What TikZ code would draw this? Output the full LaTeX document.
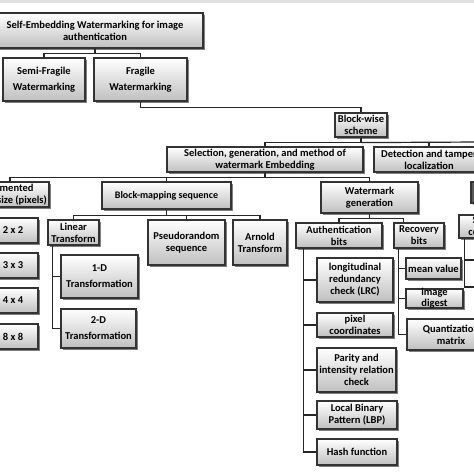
\documentclass[tikz,border=0pt]{standalone}
\usepackage{fontspec}
\setmainfont{Carlito}
\usetikzlibrary{shadows}
\begin{document}
\begin{tikzpicture}[x=1pt,y=-1pt,
  bx/.style={draw=black!80, line width=1.2pt, top color=white, bottom color=black!25,
    align=center, inner sep=1pt, font=\bfseries\fontsize{10.5}{12}\selectfont,
    drop shadow={shadow xshift=1.8pt, shadow yshift=-1.8pt, opacity=0.5, fill=black}},
  wide/.style={font=\bfseries\fontsize{10.5}{16}\selectfont},
  wh/.style 2 args={minimum width=#1pt, minimum height=#2pt},
  dark/.style={draw=black!80, line width=1.2pt, fill=black!65,
    drop shadow={shadow xshift=1.8pt, shadow yshift=-1.8pt, opacity=0.5, fill=black}},
  txt/.style={align=center, inner sep=0pt, font=\bfseries\fontsize{10.5}{11}\selectfont},
  ln/.style={draw=black!85, line width=1.2pt}]
\useasboundingbox (0,0) rectangle (474,474);
\clip (0,0) rectangle (474,474);
\fill[white] (0,0) rectangle (474,474);
\fill[black!12] (0,0) rectangle (474,3);

% nodes
\node[bx, wh={216}{35}] (root) at (95,30.5) {Self-Embedding Watermarking for image\\authentication};
\node[bx, wide, wh={82}{43}] (semi) at (44,79.5) {Semi-Fragile\\Watermarking};
\node[bx, wide, wh={93}{43}] (frag) at (140.5,79.5) {Fragile\\Watermarking};
\node[bx, wh={52}{24}] (bw) at (361,125) {Block-wise\\scheme};
\node[bx, wh={196}{25}] (sel) at (265,159.5) {Selection, generation, and method of\\watermark Embedding};
\node[bx, wh={110}{25}] (det) at (429,159.5) {Detection and tamper\\localization};
\node[dark, wh={50}{21}] (dk) at (496,192.5) {};
\node[bx, wh={70}{23}] (sc) at (494,226.5) {Structural\\comparison};

\node[bx, wh={80}{25}] (seg) at (9,194.5) {Segmented\\Block size (pixels)};
\node[bx, wh={50}{25}] (s2) at (13,230.5) {2 x 2};
\node[bx, wh={50}{25}] (s3) at (13,265.5) {3 x 3};
\node[bx, wh={50}{25}] (s4) at (13,300.5) {4 x 4};
\node[bx, wh={50}{25}] (s8) at (13,336.5) {8 x 8};

\node[bx, wh={129}{27}, font=\bfseries\fontsize{10}{12}\selectfont] (bm) at (166.5,195.5) {Block-mapping sequence};
\node[bx, wh={51}{25}] (lin) at (73.5,232.5) {Linear\\Transform};
\node[bx, wh={77}{45}] (pr) at (186.5,242.5) {Pseudorandom\\sequence};
\node[bx, wh={54}{45}] (arn) at (260,242.5) {Arnold\\Transform};
\node[bx, wide, wh={77}{43}] (oned) at (99.5,276.5) {1-D\\Transformation};
\node[bx, wide, wh={75}{39}] (twod) at (98.5,328.5) {2-D\\Transformation};

\node[bx, wh={97}{31}] (wg) at (369.5,197.5) {Watermark\\generation};
\node[bx, wh={86}{25}] (auth) at (339,235.5) {Authentication\\bits};
\node[bx, wh={50}{25}] (rec) at (419,235.5) {Recovery\\bits};
\node[bx, wh={76}{44}] (lrc) at (355,280) {longitudinal\\redundancy\\check (LRC)};
\node[bx, wh={76}{24}] (pix) at (355,325) {pixel\\coordinates};
\node[bx, wh={79}{44}] (par) at (356.5,370) {Parity and\\intensity relation\\check};
\node[bx, wh={80}{28}] (lbp) at (357,415) {Local Binary\\Pattern (LBP)};
\node[bx, wh={80}{26}] (hash) at (357,452) {Hash function};
\node[bx, wh={55}{21}] (mean) at (433.5,268.5) {mean value};
\node[bx, wh={57}{19}] (dig) at (434.5,298.5) {};
\node[txt] (digt) at (dig.center) {image\\digest};
\node[bx, wh={88}{31}] (quant) at (451,334.5) {Quantization\\matrix};

\coordinate (rt) at (480,142);
\coordinate (r1) at (480,260);
\coordinate (r2) at (480,287);

% connectors
\draw[ln] (root.south) -- ++(0,4.5) -| (semi.north);
\draw[ln] (root.south) ++(0,4.5) -| (frag.north);
\draw[ln] (frag.south) -- ++(0,5.5) -| (bw.north);
\draw[ln] (bw.south) -- ++(0,5) -| (sel.north);
\draw[ln] (bw.south) ++(0,5) -| (det.north);
\draw[ln] (bw.south) ++(0,5) -- (rt);
\draw[ln] (sel.south) -- ++(0,5) -| ([xshift=1pt]seg.north);
\draw[ln] (sel.south) ++(0,5) -| (bm.north);
\draw[ln] (sel.south) ++(0,5) -| (wg.north);
\draw[ln] (bm.south) -- ++(0,6) -| (lin.north);
\draw[ln] (bm.south) ++(0,6) -| (pr.north);
\draw[ln] (bm.south) ++(0,6) -| (arn.north);
\draw[ln] ([xshift=5pt]lin.south west) |- (oned.west);
\draw[ln] ([xshift=5pt]lin.south west) |- (twod.west);
\draw[ln] (wg.south) -- ++(0,5) -| (auth.north);
\draw[ln] (wg.south) ++(0,5) -| ([xshift=10pt]rec.north west);
\draw[ln] ([xshift=8pt]auth.south west) |- (lrc.west);
\draw[ln] ([xshift=8pt]auth.south west) |- (pix.west);
\draw[ln] ([xshift=8pt]auth.south west) |- (par.west);
\draw[ln] ([xshift=8pt]auth.south west) |- (lbp.west);
\draw[ln] ([xshift=8pt]auth.south west) |- (hash.west);
\draw[ln] ([xshift=5pt]rec.south west) |- (mean.west);
\draw[ln] ([xshift=5pt]rec.south west) |- (dig.west);
\draw[ln] ([xshift=5pt]rec.south west) |- (quant.west);
\draw[ln] ([xshift=6pt]sc.south west) |- (r1);
\draw[ln] ([xshift=6pt]sc.south west) |- (r2);
\end{tikzpicture}
\end{document}
